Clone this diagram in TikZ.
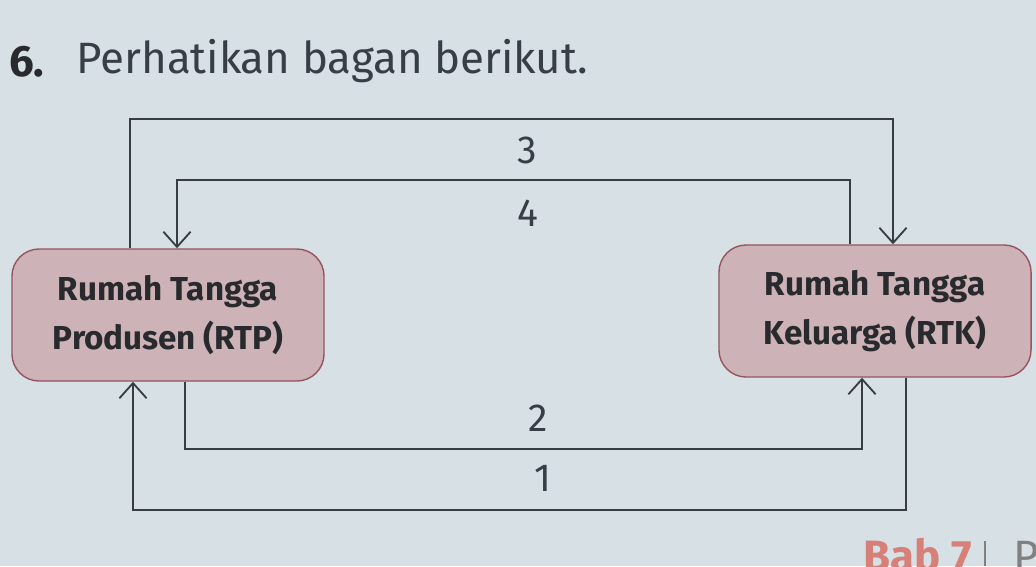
\documentclass[tikz,border=0pt]{standalone}
\usepackage{fontspec}
\setmainfont{Fira Sans}
\usetikzlibrary{arrows.meta}
\definecolor{paper}{RGB}{214,224,229}
\definecolor{wire}{RGB}{55,62,66}
\definecolor{ink}{RGB}{40,42,45}
\definecolor{titleink}{RGB}{55,62,70}
\definecolor{boxfill}{RGB}{205,178,183}
\definecolor{boxline}{RGB}{150,85,95}
\definecolor{babred}{RGB}{214,128,120}
\tikzset{
	sector/.style={draw=boxline,fill=boxfill,line width=1pt,rounded corners=0.68cm,
		minimum width=7.8cm,minimum height=3.3cm,align=center,text=ink,
		font=\fontsize{23.6}{35}\selectfont\bfseries},
	flow/.style={draw=wire,line width=1.3pt},
	num/.style={text=titleink,font=\fontsize{27.8}{30}\selectfont},
	head/.style={anchor=base west,inner sep=0,font=\fontsize{31.2}{36}\selectfont}
}
\begin{document}
\begin{tikzpicture}[x=0.025cm,y=-0.025cm,>={Straight Barb[length=0.38cm,width=0.68cm]}]
	\fill[paper] (0,0) rectangle (1036,566);
	\useasboundingbox (0,0) rectangle (1036,566);
	\clip (0,0) rectangle (1036,566);
	\node[head,text=ink] (qno) at (9,76) {\bfseries 6.};
	\node[head,text=titleink] (qtext) at (76,73) {Perhatikan bagan berikut.};
	\node[sector] (rtp) at (168,315) {Rumah Tangga\\Produsen (RTP)};
	\node[sector] (rtk) at (875,311) {Rumah Tangga\\Keluarga (RTK)};
	\coordinate (c3l) at (130,119);
	\coordinate (c3r) at (893,119);
	\coordinate (c4l) at (177,180);
	\coordinate (c4r) at (850,180);
	\coordinate (c2l) at (185,449);
	\coordinate (c2r) at (862,449);
	\coordinate (c1l) at (133,510);
	\coordinate (c1r) at (906,510);
	\draw[flow,->] (rtp.north -| c3l) -- (c3l) -- (c3r) -- (rtk.north -| c3r);
	\draw[flow,->] (rtk.north -| c4r) -- (c4r) -- (c4l) -- (rtp.north -| c4l);
	\draw[flow,->] (rtp.south -| c2l) -- (c2l) -- (c2r) -- (rtk.south -| c2r);
	\draw[flow,->] (rtk.south -| c1r) -- (c1r) -- (c1l) -- (rtp.south -| c1l);
	\node[num] (l3) at (527,150) {3};
	\node[num] (l4) at (528,213) {4};
	\node[num] (l2) at (538,418) {2};
	\node[num] (l1) at (543,478) {1};
	\node[head,text=babred] (bab) at (863,571) {\bfseries Bab 7};
	\draw[gray,line width=0.8pt] (985,541) -- (985,566);
	\node[head,text=gray] (page) at (1013,571) {P};
\end{tikzpicture}
\end{document}
